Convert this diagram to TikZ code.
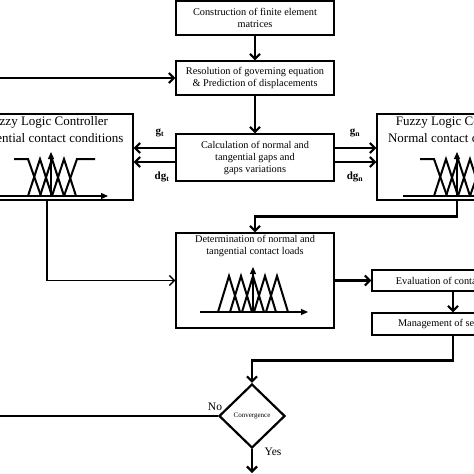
\documentclass[tikz,border=0pt]{standalone}
\usepackage{fontspec}
\setmainfont{Liberation Serif}
\usetikzlibrary{arrows.meta, positioning, shapes.geometric, calc}

\begin{document}
\begin{tikzpicture}[
		x=1pt, y=-1pt,
		font=\fontsize{10.3}{12}\selectfont,
		% Style for the process boxes
		proc/.style={draw, line width=1.1pt, minimum width=158pt, align=center, inner sep=2pt},
		% Fuzzy controller boxes
		flc/.style={draw, line width=1.1pt, minimum height=86pt},
		flc title/.style={font=\fontsize{13}{16.5}\selectfont, align=center, anchor=north, inner sep=3pt},
		% Connectors
		flow/.style={line width=2.2pt, -{Straight Barb[length=5pt, width=10pt]}},
		thin flow/.style={line width=1.4pt, -{Straight Barb[length=5pt, width=10pt]}},
		% Membership functions & axes
		mf/.style={line width=2pt, line join=miter},
		mf axis/.style={line width=1.2pt, -{Triangle[length=7pt, width=6pt]}},
		% Labels
		gap label/.style={font=\fontsize{11}{12}\selectfont\bfseries},
		answer/.style={font=\fontsize{11.5}{13}\selectfont}
		]
		
		\fill[white] (0,0) rectangle (474,474);
		\useasboundingbox (0,0) rectangle (474,474);
		\clip (0,0) rectangle (474,474);
		
		% main column
		\node[proc, minimum height=34pt] (constr) at (255,18) {Construction of finite element\\matrices};
		\node[proc, minimum height=34pt] (resol) at (255,78) {Resolution of governing equation\\\& Prediction of displacements};
		\node[proc, minimum height=47pt] (calc) at (255,157.5) {Calculation of normal and\\tangential gaps and\\gaps variations};
		\node[proc, minimum height=95pt] (loads) at (255,280.5) {};
		\node[align=center, anchor=north, inner sep=3pt] (loadsText) at (loads.north) {Determination of normal and\\tangential contact loads};
		
		% fuzzy controllers
		\node[flc, minimum width=172pt] (flcT) at (47,157) {};
		\node[flc title] (flcTText) at (flcT.north) {Fuzzy Logic Controller\\Tangential contact conditions};
		\node[flc, minimum width=160pt] (flcN) at (457,157) {};
		\node[flc title] (flcNText) at (flcN.north) {Fuzzy Logic Controller\\Normal contact conditions};
		
		% right column
		\node[proc, minimum width=162pt, minimum height=21pt] (eval) at (453,280.5) {Evaluation of contact status};
		\node[proc, minimum width=162pt, minimum height=22pt] (manag) at (453,324) {Management of separation};
		\node[draw, diamond, aspect=1, line width=2.2pt, minimum width=66pt, minimum height=64pt, inner sep=0pt,
			font=\fontsize{7}{8}\selectfont] (conv) at (252,416) {Convergence};
		
		% membership functions, tangential
		\begin{scope}[shift={(51,196)}]
			\draw[mf axis] (-60,0) -- (57,0);
			\draw[mf axis] (0,0) -- (0,-44);
			\draw[mf] (-37,-37) -- (-23,-37) -- (-10,0);
			\draw[mf] (44,-37) -- (26,-37) -- (13,0);
			\foreach \p in {-11,1,13}
				\draw[mf] (\p-12,0) -- (\p,-37) -- (\p+12,0);
		\end{scope}
		
		% membership functions, normal
		\begin{scope}[shift={(457,196)}]
			\draw[mf axis] (-54,0) -- (57,0);
			\draw[mf axis] (0,0) -- (0,-44);
			\draw[mf] (-37,-37) -- (-23,-37) -- (-10,0);
			\draw[mf] (44,-37) -- (26,-37) -- (13,0);
			\foreach \p in {-11,1,13}
				\draw[mf] (\p-12,0) -- (\p,-37) -- (\p+12,0);
		\end{scope}
		
		% membership functions, contact loads
		\begin{scope}[shift={(253,312)}]
			\draw[mf axis] (-53,0) -- (55,0);
			\draw[mf axis] (0,0) -- (0,-45);
			\foreach \p in {-24,-12,0,12,24}
				\draw[mf] (\p-11,0) -- (\p,-36) -- (\p+11,0);
		\end{scope}
		
		% connectors
		\draw[flow] (constr) -- (resol);
		\draw[flow] (resol) -- (calc);
		\draw[flow] ([yshift=9.5pt]calc.west) -- ([yshift=9pt]flcT.east);
		\draw[flow] ([yshift=-4.5pt]calc.west) -- ([yshift=-5pt]flcT.east);
		\draw[flow] ([yshift=9.5pt]calc.east) -- ([yshift=9pt]flcN.west);
		\draw[flow] ([yshift=-4.5pt]calc.east) -- ([yshift=-5pt]flcN.west);
		\node[gap label] (gt) at (160,133) {g\textsubscript{t}};
		\node[gap label] (dgt) at (162,177) {dg\textsubscript{t}};
		\node[gap label] (gn) at (355,133) {g\textsubscript{n}};
		\node[gap label] (dgn) at (355,177) {dg\textsubscript{n}};
		
		\draw[thin flow] (flcT.south) |- (loads.west);
		\draw[flow] (flcN.south) -- ++(0,16) -| (loads.north);
		\draw[flow] (loads) -- (eval);
		\draw[flow] (eval) -- (manag);
		\draw[flow] (manag.south) -- ++(0,25) -| (conv.north);
		
		% convergence test
		\coordinate (loop) at (-20,416);
		\coordinate (yesEnd) at (252,473);
		\draw[flow] (conv.west) -- (loop) |- (resol.west);
		\draw[flow] (conv.south) -- (yesEnd);
		\node[answer] (no) at (215,407) {No};
		\node[answer] (yes) at (273,452) {Yes};
	\end{tikzpicture}
\end{document}
